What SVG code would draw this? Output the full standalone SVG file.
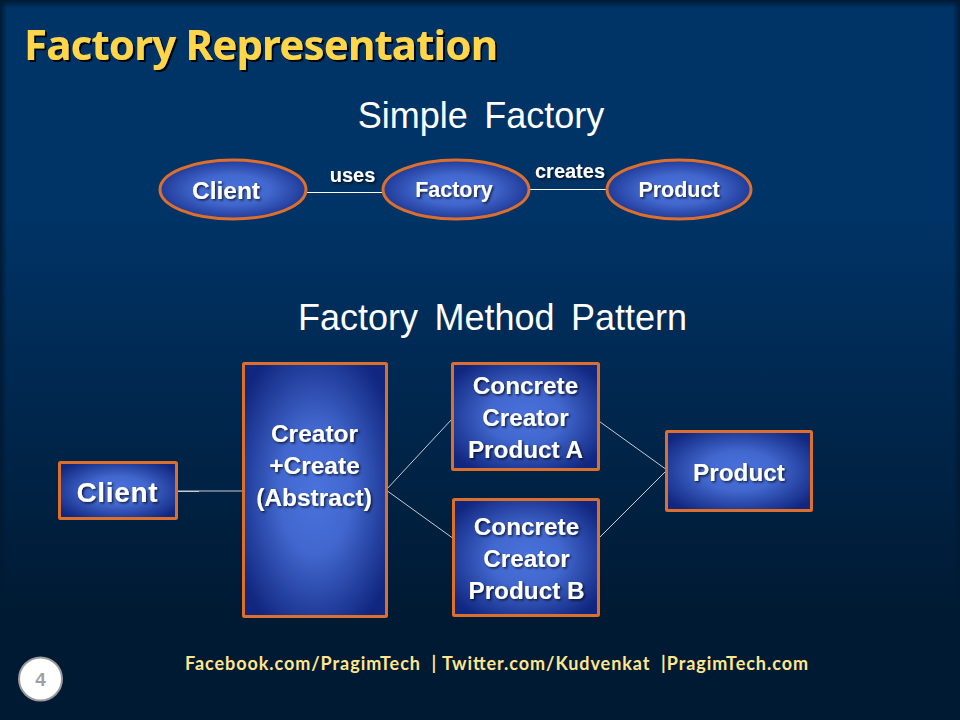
<svg xmlns="http://www.w3.org/2000/svg" width="960" height="720" viewBox="0 0 960 720">
<style>
.lbl{font-family:"Liberation Sans",Arial,sans-serif;font-weight:700;fill:#fff;text-anchor:middle;filter:url(#ts)}
.head{font-family:"Liberation Sans",Arial,sans-serif;font-size:36px;word-spacing:6.5px;fill:#fff;text-anchor:middle}
.box{stroke:#dd6f2c;stroke-width:3;fill:url(#rg)}
.cn{stroke:#fff;fill:none}
.cf{stroke:#c4ccd6;stroke-width:1;fill:none}
</style>
<defs>
<linearGradient id="bg" x1="0" y1="0" x2="0" y2="1">
<stop offset="0" stop-color="#003366"/><stop offset="0.3" stop-color="#003366"/><stop offset="0.85" stop-color="#001a33"/><stop offset="1" stop-color="#001a33"/>
</linearGradient>
<linearGradient id="et" x1="0" y1="0" x2="0" y2="1"><stop offset="0" stop-color="#001a33"/><stop offset="1" stop-color="#001a33" stop-opacity="0"/></linearGradient>
<linearGradient id="el" x1="0" y1="0" x2="1" y2="0"><stop offset="0" stop-color="#001a33"/><stop offset="1" stop-color="#001a33" stop-opacity="0"/></linearGradient>
<linearGradient id="er" x1="1" y1="0" x2="0" y2="0"><stop offset="0" stop-color="#001a33"/><stop offset="1" stop-color="#001a33" stop-opacity="0"/></linearGradient>
<radialGradient id="rg" cx="0.5" cy="0.5" r="0.62">
<stop offset="0" stop-color="#4a72dc"/><stop offset="0.4" stop-color="#4268cf"/><stop offset="1" stop-color="#10267f"/>
</radialGradient>
<filter id="ts" x="-10%" y="-20%" width="120%" height="140%"><feDropShadow dx="1.500" dy="1.500" stdDeviation="1" flood-color="#000" flood-opacity="0.7"/></filter>
<filter id="ts2" x="-5%" y="-20%" width="110%" height="140%"><feDropShadow dx="2" dy="2" stdDeviation="0.500" flood-color="#000" flood-opacity="0.9"/></filter>
</defs>
<rect width="960" height="720" fill="url(#bg)"/>
<rect width="960" height="8" fill="url(#et)"/>
<rect width="7" height="720" fill="url(#el)"/>
<rect x="953" width="7" height="720" fill="url(#er)"/>

<text x="24" y="60" font-family="'Noto Sans',sans-serif" font-weight="700" font-size="42" fill="#ffd54a" filter="url(#ts2)" textLength="474" lengthAdjust="spacing">Factory Representation</text>
<text class="head" x="481" y="128">Simple Factory</text>
<text class="head" x="492.500" y="330">Factory Method Pattern</text>

<g id="connectors">
<line class="cn" x1="306" y1="192.500" x2="384" y2="192.500"/>
<line class="cn" x1="528" y1="189.500" x2="607" y2="189.500"/>
<line class="cf" x1="176" y1="491" x2="244" y2="491"/>
<line class="cf" x1="176" y1="491.500" x2="199" y2="491.500"/>
<line class="cf" x1="386" y1="490" x2="452" y2="419"/>
<line class="cf" x1="386" y1="490" x2="454" y2="539"/>
<line class="cf" x1="596" y1="419" x2="667" y2="470"/>
<line class="cf" x1="598" y1="539" x2="667" y2="470"/>
</g>

<g id="simple-client"><ellipse class="box" cx="233" cy="189.500" rx="73" ry="29.500"/><text class="lbl" x="226" y="199" font-size="24.500">Client</text></g>
<g id="simple-factory"><ellipse class="box" cx="456" cy="189.500" rx="73" ry="29.500"/><text class="lbl" x="454" y="197" font-size="21.500">Factory</text></g>
<g id="simple-product"><ellipse class="box" cx="679" cy="189.500" rx="72" ry="29.500"/><text class="lbl" x="679" y="197" font-size="21.500">Product</text></g>
<g id="label-uses"><text class="lbl" x="352.500" y="182" font-size="20">uses</text></g>
<g id="label-creates"><text class="lbl" x="570" y="178" font-size="20">creates</text></g>

<g id="method-client"><rect class="box" x="59.500" y="462.500" width="117" height="56" rx="1"/><text class="lbl" x="117" y="502" font-size="28" textLength="81">Client</text></g>
<g id="creator"><rect class="box" x="243.500" y="363.500" width="143" height="253" rx="1"/>
<text class="lbl" x="314.500" y="442" font-size="24.500">Creator</text>
<text class="lbl" x="314.500" y="474" font-size="24.500">+Create</text>
<text class="lbl" x="314" y="506" font-size="24.500">(Abstract)</text></g>
<g id="concrete-a"><rect class="box" x="452.500" y="363.500" width="146" height="106" rx="1"/>
<text class="lbl" x="525.500" y="394" font-size="24.300">Concrete</text>
<text class="lbl" x="525.500" y="426" font-size="24.300">Creator</text>
<text class="lbl" x="525.500" y="458" font-size="24.300">Product A</text></g>
<g id="concrete-b"><rect class="box" x="453.500" y="499.500" width="145" height="116" rx="1"/>
<text class="lbl" x="526.500" y="535" font-size="24.300">Concrete</text>
<text class="lbl" x="526.500" y="567" font-size="24.300">Creator</text>
<text class="lbl" x="526.500" y="599" font-size="24.300">Product B</text></g>
<g id="product"><rect class="box" x="666.500" y="431.500" width="145" height="79" rx="1"/><text class="lbl" x="739" y="481" font-size="24.300">Product</text></g>

<g id="footer"><text x="185" y="670" font-family="Lato,'Open Sans',sans-serif" font-weight="700" font-size="18" fill="#ffe68f" textLength="623" xml:space="preserve">Facebook.com/PragimTech  | Twitter.com/Kudvenkat  |PragimTech.com</text></g>
<g id="page-number"><circle cx="40.500" cy="679" r="21.500" fill="#fff" stroke="#9a9a9a" stroke-width="2"/><text x="40.500" y="686" font-family="Liberation Sans,Arial,sans-serif" font-weight="700" font-size="19" fill="#a0a0a0" text-anchor="middle">4</text></g>
</svg>
